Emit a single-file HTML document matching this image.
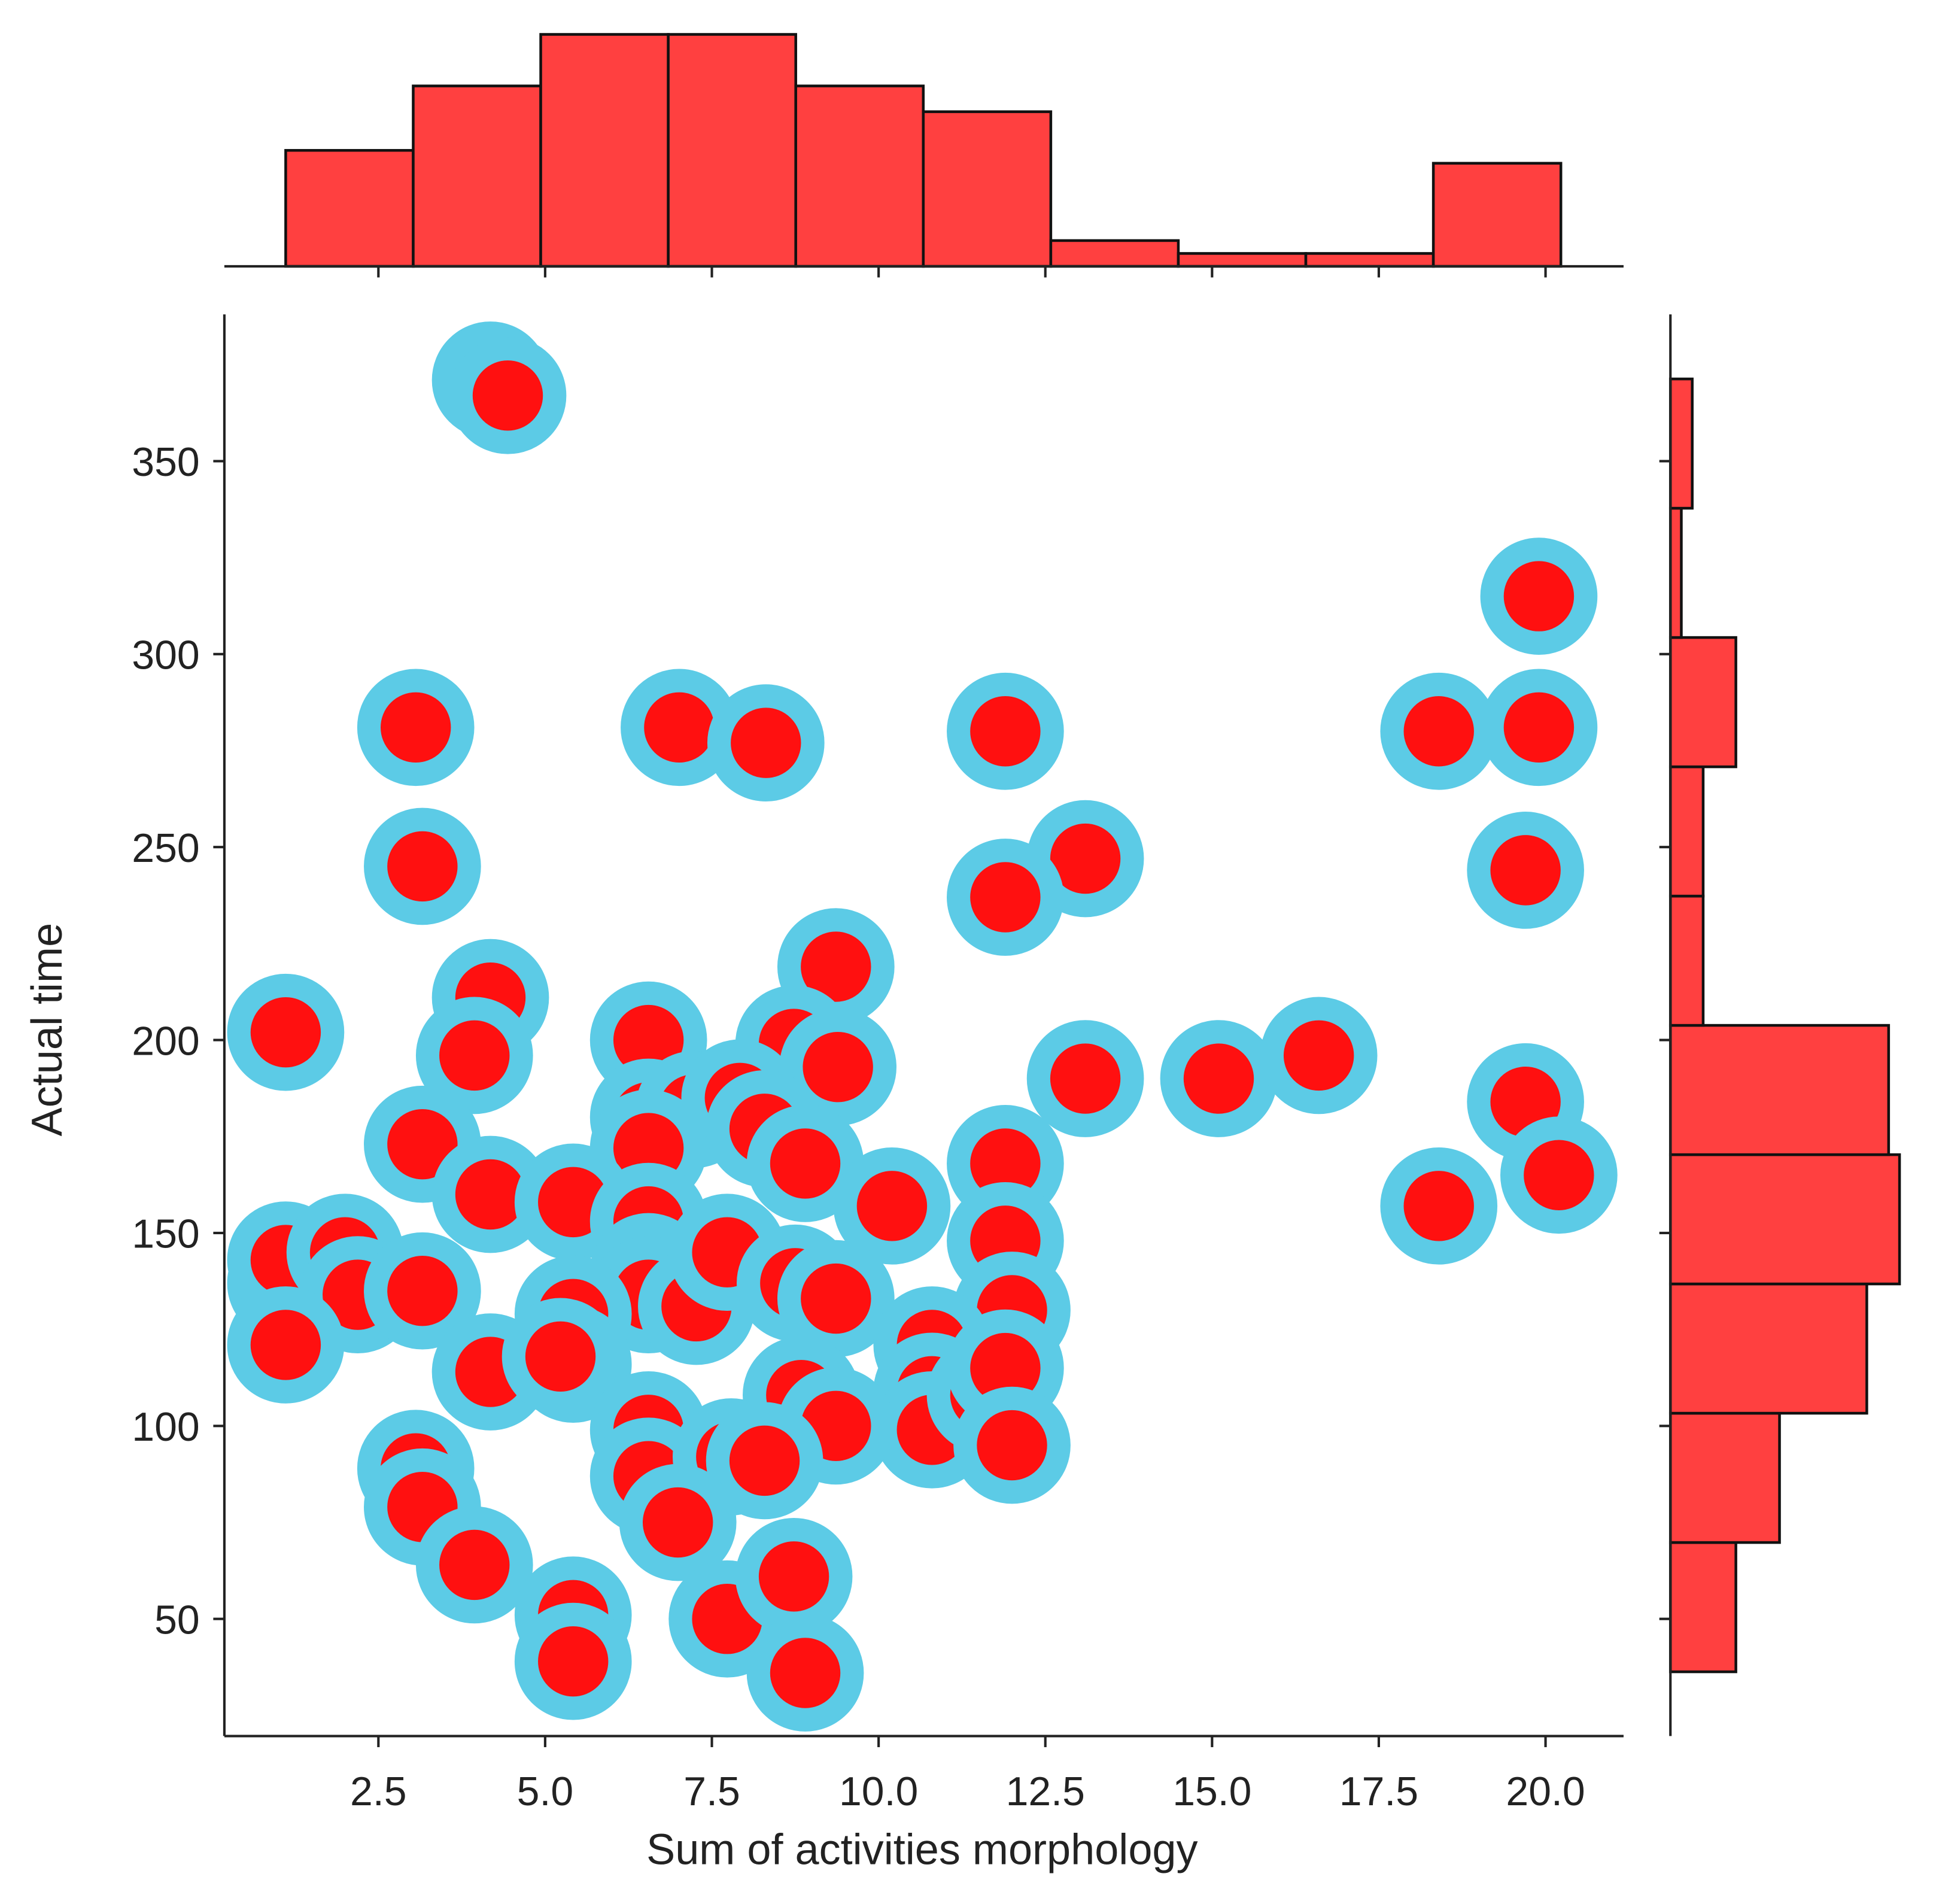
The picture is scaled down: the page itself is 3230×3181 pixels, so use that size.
<!DOCTYPE html>
<html><head><meta charset="utf-8"><style>html,body{margin:0;padding:0;background:#fff}svg{display:block}</style></head>
<body>
<svg id="chart" xmlns="http://www.w3.org/2000/svg" width="3230" height="3181" viewBox="0 0 1568 1544.2" font-family="'Liberation Sans', 'DejaVu Sans', sans-serif">
<rect width="1568" height="1544.2" fill="#fff"/>
<g id="topHist"></g>
<g id="rightHist"></g>
<g id="scatter"></g>
<g id="axes"></g>
<text x="748" y="1512" font-size="35" text-anchor="middle" fill="#222">Sum of activities morphology</text>
<text transform="translate(50,835) rotate(-90)" font-size="35" text-anchor="middle" fill="#222">Actual time</text>
</svg>
<script>
const xs = [4.18,4.44,19.9,3.06,7.01,8.31,11.9,18.4,19.9,3.16,13.1,11.9,19.7,9.36,1.11,4.18,3.94,6.55,8.73,9.39,13.1,15.1,16.6,19.7,3.16,6.55,7.23,7.92,8.29,6.55,8.9,11.9,4.18,5.42,10.2,18.4,20.2,1.11,1.11,2.0,2.19,3.16,6.55,6.55,6.55,7.27,7.73,8.75,9.36,11.9,12.0,5.42,1.11,4.18,5.42,5.23,10.8,10.8,10.8,11.6,11.9,12.0,8.84,9.36,6.55,6.55,7.79,8.29,6.99,3.06,3.16,3.94,5.42,5.42,7.73,8.73,8.9];
const ys = [371,367,315,281,281,277,280,280,281,245,247,237,244,219,202,211,196,200,199,193,190,190,196,184,173,180,182,185,177,172,168,168,160,158,157,157,165,137,143,145,134,135,153,140,134,131,145,137,133,148,130,129,121,114,116,118,121,109,99,108,115,95,108,100,99,87,92,91,75,89,79,64,51,39,50,61,36];
const xBinStart = 1.11, xBinWidth = 1.912;
const xCounts = [9,14,18,18,14,12,2,1,1,8];
const yBinStart = 36.3, yBinWidth = 33.5;
const yCounts = [6,10,18,21,20,3,3,6,1,2];
const xTicks = [2.5,5.0,7.5,10.0,12.5,15.0,17.5,20.0];
const yTicks = [50,100,150,200,250,300,350];

const NS='http://www.w3.org/2000/svg';
const X = v => 171.7 + v*54.1;
const Y = v => 1469.5 - v*3.13;
const topBase = 216, topUnit = 10.45;
const rightBase = 1355, rightUnit = 8.85;
function mk(tag, attrs, parent){const e=document.createElementNS(NS,tag);for(const k in attrs)e.setAttribute(k,attrs[k]);parent.appendChild(e);return e;}
const th=document.getElementById('topHist'), rh=document.getElementById('rightHist'), sc=document.getElementById('scatter'), ax=document.getElementById('axes');

xCounts.forEach((c,i)=>{
  const x0=X(xBinStart+i*xBinWidth), x1=X(xBinStart+(i+1)*xBinWidth), h=c*topUnit;
  const r=mk('rect',{x:x0,y:topBase-h,width:x1-x0,height:h,fill:'#ff4040',stroke:'#111','stroke-width':2.2},th);
  
  
});
yCounts.forEach((c,i)=>{
  const y0=Y(yBinStart+i*yBinWidth), y1=Y(yBinStart+(i+1)*yBinWidth), w=c*rightUnit;
  const r=mk('rect',{x:rightBase,y:y1,width:w,height:y0-y1,fill:'#ff4040',stroke:'#111','stroke-width':2.2},rh);
  
  
});
xs.forEach((v,i)=>{
  const c=mk('circle',{cx:X(v),cy:Y(ys[i]),r:38,fill:'#ff1010',stroke:'#5ccbe6','stroke-width':19},sc);
  
  
});
mk('line',{x1:182,y1:255,x2:182,y2:1408,stroke:'#222','stroke-width':2},ax);
mk('line',{x1:182,y1:1408,x2:1317,y2:1408,stroke:'#222','stroke-width':2},ax);
mk('line',{x1:182,y1:216,x2:1317,y2:216,stroke:'#222','stroke-width':2},ax);
mk('line',{x1:1355,y1:255,x2:1355,y2:1408,stroke:'#222','stroke-width':2},ax);
xTicks.forEach(t=>{
  mk('line',{x1:X(t),y1:1408,x2:X(t),y2:1417,stroke:'#222','stroke-width':2},ax);
  mk('line',{x1:X(t),y1:216,x2:X(t),y2:225,stroke:'#222','stroke-width':2},ax);
  const tx=mk('text',{x:X(t),y:1464,'font-size':33,'text-anchor':'middle',fill:'#222'},ax);
  tx.textContent=t.toFixed(1);
  
  
});
yTicks.forEach(t=>{
  mk('line',{x1:173,y1:Y(t),x2:182,y2:Y(t),stroke:'#222','stroke-width':2},ax);
  mk('line',{x1:1346,y1:Y(t),x2:1355,y2:Y(t),stroke:'#222','stroke-width':2},ax);
  const tx=mk('text',{x:162,y:Y(t)+12,'font-size':33,'text-anchor':'end',fill:'#222'},ax);
  tx.textContent=String(t);
  
  
});
</script>
</body></html>
